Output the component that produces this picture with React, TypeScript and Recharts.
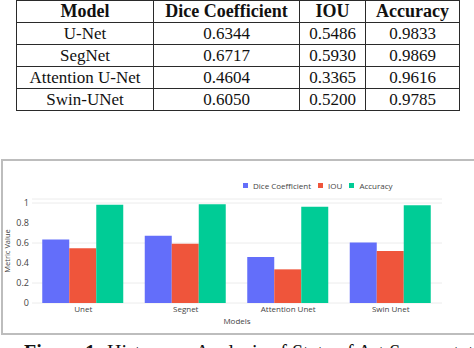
import React from 'react'
import { BarChart, Bar, XAxis, YAxis, CartesianGrid, Legend } from 'recharts'

// table rows (paper naming)
const tableModels = ['U-Net', 'SegNet', 'Attention U-Net', 'Swin-UNet']
// chart categories (plot naming)
const chartModels = ['Unet', 'Segnet', 'Attention Unet', 'Swin Unet']
const dice = [0.6344, 0.6717, 0.4604, 0.605]
const iou = [0.5486, 0.593, 0.3365, 0.52]
const accuracy = [0.9833, 0.9869, 0.9616, 0.9785]
const yTicks = [0, 0.2, 0.4, 0.6, 0.8, 1]

const series = [
  { key: 'dice', name: 'Dice Coefficient', color: '#636efa' },
  { key: 'iou', name: 'IOU', color: '#ef553b' },
  { key: 'accuracy', name: 'Accuracy', color: '#00cc96' },
]

const rows = chartModels.map((model, i) => ({
  model,
  dice: dice[i],
  iou: iou[i],
  accuracy: accuracy[i],
}))

const serif = '"Liberation Serif", "Times New Roman", serif'
const sans = '"Open Sans", verdana, arial, sans-serif'

const cell: React.CSSProperties = {
  border: '1.3px solid #2a2a2a',
  height: 21,
  padding: 0,
  textAlign: 'center',
  fontSize: 17,
  lineHeight: '21px',
}

function renderLegend() {
  return (
    <div style={{ display: 'flex', alignItems: 'center', fontFamily: sans, fontSize: 8, color: '#444' }}>
      {series.map(s => (
        <div key={s.key} style={{ display: 'flex', alignItems: 'center', marginRight: 7 }}>
          <span style={{ width: 5, height: 5, background: s.color, display: 'inline-block', marginRight: 5 }} />
          <span>{s.name}</span>
        </div>
      ))}
    </div>
  )
}

export default function App() {
  return (
    <div
      style={{
        position: 'fixed',
        left: 0,
        top: 0,
        width: 474,
        height: 348,
        background: '#fff',
        overflow: 'hidden',
      }}
    >
      {/* results table */}
      <table
        style={{
          position: 'absolute',
          left: 16,
          top: 0,
          width: 443,
          borderCollapse: 'collapse',
          tableLayout: 'fixed',
          fontFamily: serif,
          color: '#111',
        }}
      >
        <colgroup>
          <col style={{ width: 137 }} />
          <col style={{ width: 146 }} />
          <col style={{ width: 66 }} />
          <col style={{ width: 94 }} />
        </colgroup>
        <thead>
          <tr>
            {['Model', 'Dice Coefficient', 'IOU', 'Accuracy'].map(h => (
              <th key={h} style={{ ...cell, fontSize: 18 }}>{h}</th>
            ))}
          </tr>
        </thead>
        <tbody>
          {tableModels.map((m, i) => (
            <tr key={m}>
              <td style={cell}>{m}</td>
              <td style={cell}>{dice[i].toFixed(4)}</td>
              <td style={cell}>{iou[i].toFixed(4)}</td>
              <td style={cell}>{accuracy[i].toFixed(4)}</td>
            </tr>
          ))}
        </tbody>
      </table>

      {/* figure frame */}
      <div
        style={{
          position: 'absolute',
          left: 1,
          top: 159,
          width: 490,
          height: 172,
          border: '2px solid #bdbdbd',
          borderRight: 'none',
        }}
      />

      <div style={{ position: 'absolute', left: 0, top: 162 }}>
        <BarChart
          width={474}
          height={170}
          data={rows}
          margin={{ top: 37, right: 32, bottom: 0, left: 4 }}
          barCategoryGap="10%"
          barGap={0}
        >
          <CartesianGrid horizontal vertical={false} stroke="#ececec" />
          <XAxis
            dataKey="model"
            height={29}
            interval={0}
            tickSize={0}
            tickMargin={3}
            axisLine={false}
            tickLine={false}
            tick={{ fill: '#444', fontSize: 8, fontFamily: sans }}
            label={{ value: 'Models', position: 'insideBottom', offset: 8, fill: '#444', fontSize: 8, fontFamily: sans }}
          />
          <YAxis
            width={28}
            domain={[0, 1.04]}
            ticks={yTicks}
            tickSize={0}
            tickMargin={3}
            axisLine={false}
            tickLine={false}
            tick={{ fill: '#444', fontSize: 9, fontFamily: sans }}
            label={{
              value: 'Metric Value',
              angle: -90,
              position: 'insideLeft',
              offset: 3,
              fill: '#444',
              fontSize: 7.5,
              fontFamily: sans,
              style: { textAnchor: 'middle' },
            }}
          />
          <Legend
            verticalAlign="middle"
            align="center"
            layout="horizontal"
            content={renderLegend}
            wrapperStyle={{ left: 243, top: 18, width: 'auto', height: 'auto' }}
          />
          {series.map(s => (
            <Bar key={s.key} dataKey={s.key} name={s.name} fill={s.color} isAnimationActive={false} />
          ))}
        </BarChart>
      </div>

      {/* caption (cut off by the page edge) */}
      <div
        style={{
          position: 'absolute',
          left: 24,
          top: 342,
          whiteSpace: 'nowrap',
          fontFamily: serif,
          fontSize: 20,
          lineHeight: '20px',
          color: '#111',
        }}
      >
        <b>Figure 1:</b> Histogram Analysis of State of Art Segmentation
      </div>
    </div>
  )
}
